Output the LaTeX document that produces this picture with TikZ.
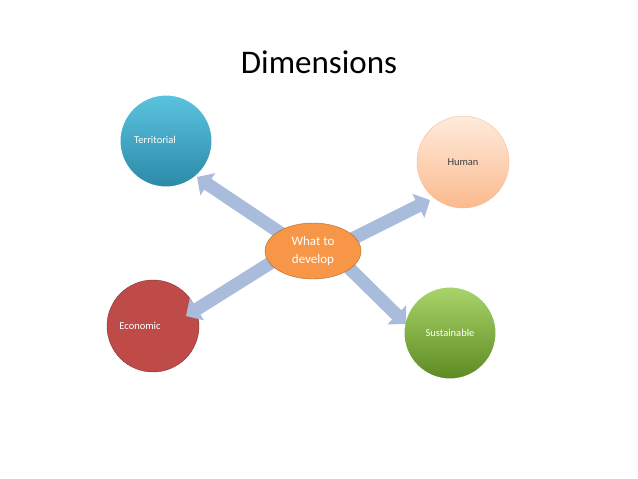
\documentclass[tikz,border=0pt]{standalone}
\usepackage{fontspec}
\setmainfont{Carlito}
\usetikzlibrary{arrows.meta,shapes.geometric}
\definecolor{arr}{HTML}{A9BCDC}
\definecolor{terT}{HTML}{5BC3DE}
\definecolor{terB}{HTML}{2B8AA8}
\definecolor{humT}{HTML}{FEEBDD}
\definecolor{humB}{HTML}{FBBA8C}
\definecolor{ecoC}{HTML}{BE4B48}
\definecolor{susT}{HTML}{A8D46A}
\definecolor{susB}{HTML}{5E8A23}
\definecolor{ctrC}{HTML}{F79646}
\tikzset{
  circ/.style={circle,minimum size=92pt,inner sep=0pt},
  lab/.style={font=\fontsize{10.5}{12}\selectfont},
  barrow/.style={draw=arr,line width=13pt,-{Triangle[width=26pt,length=13pt]}},
}
\begin{document}
\begin{tikzpicture}[x=1pt,y=-1pt]
\useasboundingbox (0,0) rectangle (638,479);
\node (title) at (319,62) {\fontsize{33}{40}\selectfont Dimensions};
\node[circ,draw=white,line width=1pt,top color=terT,bottom color=terB] (ter) at (166,141) {};
\node[lab,text=white] (terl) at (155,140) {Territorial};
\node[circ,draw=humB,top color=humT,bottom color=humB] (hum) at (463,162) {};
\node[lab,text=black!75] (huml) at (463,162) {Human};
\node[circ,draw=ecoC!70!black,fill=ecoC] (eco) at (153,326) {};
\node[lab,text=white] (ecol) at (140,326) {Economic};
\node[circ,draw=white,line width=1pt,top color=susT,bottom color=susB] (sus) at (450,333) {};
\node[lab,text=white] (susl) at (450,333) {Sustainable};
\coordinate (c1) at (288,238);
\coordinate (c2) at (350,240);
\coordinate (c3) at (272,262);
\coordinate (c4) at (343,262);
\coordinate (t1) at (197,177);
\coordinate (t2) at (430,200);
\coordinate (t3) at (186,316);
\coordinate (t4) at (406,324);
\draw[barrow] (c1) -- (t1);
\draw[barrow] (c2) -- (t2);
\draw[barrow] (c3) -- (t3);
\draw[barrow] (c4) -- (t4);
\node[ellipse,draw=ctrC!70!black,fill=ctrC,minimum width=96pt,minimum height=56pt,inner sep=0pt,text=white,align=center,font=\fontsize{13}{18}\selectfont] (ctr) at (313,251) {What to\\develop};
\end{tikzpicture}
\end{document}
